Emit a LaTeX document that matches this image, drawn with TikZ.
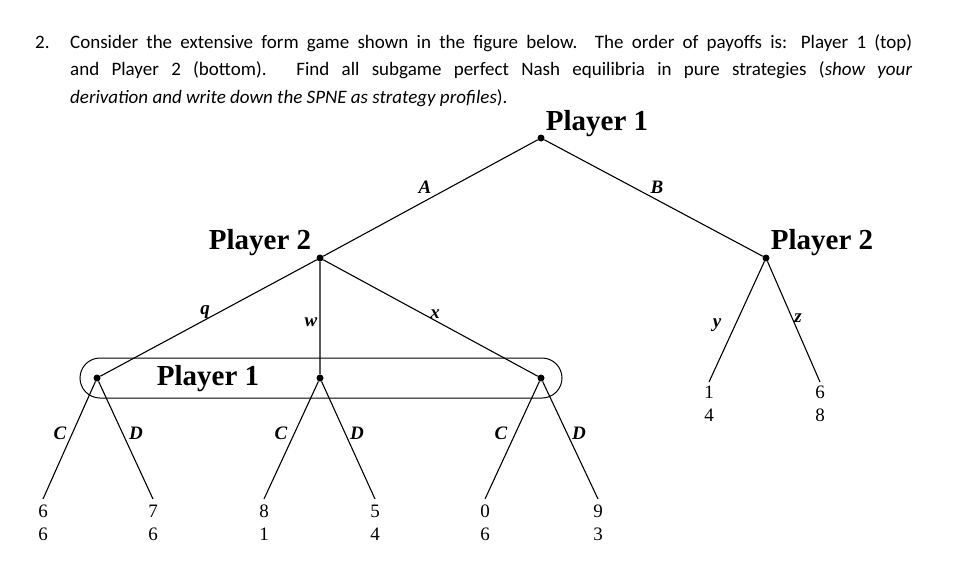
\documentclass[tikz,border=0pt]{standalone}
\usepackage{fontspec}
\setmainfont{Liberation Serif}
\newfontfamily\carlitofont{Carlito}
\begin{document}
\begin{tikzpicture}[x=1pt,y=-1pt,
  dot/.style={circle,fill=black,inner sep=0pt,minimum size=7pt},
  pl/.style={font=\fontsize{29}{29}\selectfont\bfseries},
  el/.style={font=\fontsize{19}{19}\selectfont\itshape\bfseries},
  pay/.style={font=\fontsize{19}{23}\selectfont,align=center,inner sep=0pt,anchor=north},
  tx/.style={font=\carlitofont\fontsize{19}{19}\selectfont,anchor=base west,inner sep=0pt},
  br/.style={line width=1.1pt}]
\useasboundingbox (0,0) rectangle (980,568);
\node[tx] (t0) at (35,48) {2.};
\node[tx] (t1) at (70,48) {\makebox[842pt][s]{Consider the extensive form game shown in the figure below. The order of payoffs is: Player 1 (top)}};
\node[tx] (t2) at (70,75) {\makebox[842pt][s]{and Player 2 (bottom). Find all subgame perfect Nash equilibria in pure strategies (\textit{show your}}};
\node[tx] (t3) at (70,103) {\textit{derivation and write down the SPNE as strategy profiles}).};
\draw[line width=1pt,rounded corners=20pt] (80,358) rectangle (562,398);
\node[dot] (r) at (541,138) {};
\node[dot] (p2) at (320,258) {};
\node[dot] (p2r) at (766,258) {};
\node[dot] (a) at (97,378) {};
\node[dot] (b) at (320,378) {};
\node[dot] (c) at (541,378) {};
\coordinate (l1) at (43,499); \coordinate (l2) at (153,499);
\coordinate (l3) at (264,499); \coordinate (l4) at (375,499);
\coordinate (l5) at (485,499); \coordinate (l6) at (598,499);
\coordinate (l7) at (709,382); \coordinate (l8) at (820,382);
\node[pl] at (597,124) {Player 1};
\node[pl] at (260,243) {Player 2};
\node[pl] at (822,243) {Player 2};
\node[pl] at (208,379) {Player 1};
\draw[br] (r)--(p2) (r)--(p2r) (p2)--(a) (p2)--(b) (p2)--(c)
 (a)--(l1) (a)--(l2) (b)--(l3) (b)--(l4) (c)--(l5) (c)--(l6) (p2r)--(l7) (p2r)--(l8);
\node[el] at (425,187) {A}; \node[el] at (657,187) {B};
\node[el] at (205,312) {q}; \node[el] at (311,322) {w}; \node[el] at (435,314) {x};
\node[el] at (717,325) {y}; \node[el] at (798,318) {z};
\node[el] at (60,433) {C}; \node[el] at (136,433) {D};
\node[el] at (281,433) {C}; \node[el] at (357,433) {D};
\node[el] at (501,433) {C}; \node[el] at (579,433) {D};
\node[pay] at ([yshift=-6]l1) {6\\6}; \node[pay] at ([yshift=-6]l2) {7\\6};
\node[pay] at ([yshift=-6]l3) {8\\1}; \node[pay] at ([yshift=-6]l4) {5\\4};
\node[pay] at ([yshift=-6]l5) {0\\6}; \node[pay] at ([yshift=-6]l6) {9\\3};
\node[pay] at ([yshift=-4]l7) {1\\4}; \node[pay] at ([yshift=-4]l8) {6\\8};
\end{tikzpicture}
\end{document}
